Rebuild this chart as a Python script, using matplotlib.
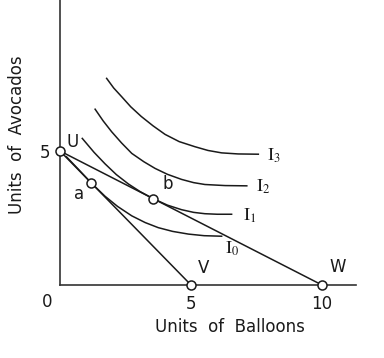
import numpy as np
import matplotlib
matplotlib.use('Agg')
import matplotlib.pyplot as plt

plt.rcParams['font.family'] = ['DejaVu Sans']
plt.rcParams['mathtext.fontset'] = 'stix'

# budget lines
line_uv_x = [0, 5]
line_uv_y = [5, 0]
line_uw_x = [0, 10]
line_uw_y = [5, 0]

# indifference curves
i0_x = [0.25, 0.7, 1.2, 1.72, 2.2, 2.74, 3.25, 3.75, 4.3, 4.9, 5.5, 6.17]
i0_y = [4.78, 4.32, 3.8, 3.31, 2.93, 2.58, 2.33, 2.14, 2.0, 1.9, 1.84, 1.82]
i1_x = [0.85, 1.3, 1.72, 2.15, 2.61, 3.05, 3.56, 4.1, 4.64, 5.1, 5.53, 6.0, 6.55]
i1_y = [5.47, 4.95, 4.52, 4.12, 3.77, 3.49, 3.22, 2.98, 2.81, 2.71, 2.66, 2.64, 2.64]
i2_x = [1.34, 1.65, 1.97, 2.35, 2.74, 3.2, 3.63, 4.1, 4.64, 5.1, 5.53, 6.3, 7.13]
i2_y = [6.56, 6.12, 5.72, 5.3, 4.91, 4.6, 4.35, 4.13, 3.94, 3.82, 3.75, 3.71, 3.7]
i3_x = [1.78, 2.05, 2.35, 2.7, 3.1, 3.55, 4.01, 4.55, 5.15, 5.65, 6.17, 6.8, 7.57]
i3_y = [7.71, 7.35, 7.03, 6.65, 6.29, 5.94, 5.62, 5.35, 5.16, 5.02, 4.93, 4.89, 4.88]

# labelled points
pt_names = ['U', 'a', 'b', 'V', 'W']
pt_x = [0, 1.2, 3.56, 5, 10]
pt_y = [5, 3.8, 3.22, 0, 0]

curve_names = ['0', '1', '2', '3']
curve_label_x = [6.3, 6.97, 7.5, 7.9]
curve_label_y = [1.35, 2.6, 3.66, 4.83]

fig = plt.figure(figsize=(3.84, 3.58), dpi=100)
ax = fig.add_axes([60/384, 73/358, 296/384, 285/358])
ax.set_xlim(0, 296/26.2)
ax.set_ylim(0, 285/26.8)

lc = '#1a1a1a'
ax.plot(line_uv_x, line_uv_y, color=lc, lw=1.1)
ax.plot(line_uw_x, line_uw_y, color=lc, lw=1.1)
for cx, cy in [(i0_x, i0_y), (i1_x, i1_y), (i2_x, i2_y), (i3_x, i3_y)]:
    ax.plot(cx, cy, color=lc, lw=1.1, solid_joinstyle='round')

ax.plot(pt_x, pt_y, 'o', ms=6.5, mfc='white', mec=lc, mew=1.1, clip_on=False, zorder=5)

offsets = {'U': (0.25, 0.0), 'a': (-0.65, -0.75), 'b': (0.35, 0.2),
           'V': (0.25, 0.3), 'W': (0.3, 0.35)}
for name, x, y in zip(pt_names, pt_x, pt_y):
    dx, dy = offsets[name]
    ax.text(x + dx, y + dy, name, fontsize=12, color=lc, ha='left', va='bottom')

for n, x, y in zip(curve_names, curve_label_x, curve_label_y):
    ax.text(x, y, r'$\mathrm{I}_{%s}$' % n, fontsize=13, color=lc, ha='left', va='center')

for s in ['top', 'right']:
    ax.spines[s].set_visible(False)
for s in ['left', 'bottom']:
    ax.spines[s].set_color('#333333')
    ax.spines[s].set_linewidth(1.2)

ax.set_xticks([5, 10])
ax.set_xticklabels(['5', '10'], fontsize=12)
ax.set_yticks([5])
ax.set_yticklabels(['5'], fontsize=12)
ax.tick_params(length=0, pad=7, colors=lc)
ax.text(-0.3, -0.3, '0', fontsize=12, color=lc, ha='right', va='top')

fig.text(230/384, 1 - 327/358, 'Units  of  Balloons', fontsize=12, color=lc,
         ha='center', va='center')
fig.text(17/384, 1 - 135/358, 'Units  of  Avocados', fontsize=12, color=lc,
         ha='center', va='center', rotation=90)

fig.savefig('out.png', dpi=100)
